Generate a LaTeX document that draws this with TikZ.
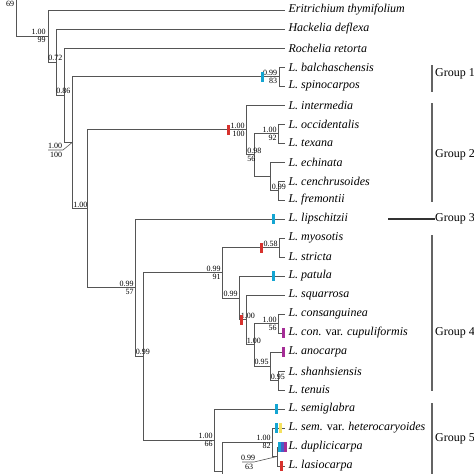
\documentclass[tikz,border=0pt]{standalone}
\usepackage{fontspec}
\setmainfont{Liberation Serif}
\definecolor{treegray}{RGB}{85,85,85}
\definecolor{bargray}{RGB}{100,100,100}
\definecolor{cyanm}{RGB}{20,165,210}
\definecolor{redm}{RGB}{215,50,45}
\definecolor{magm}{RGB}{165,45,150}
\definecolor{yelm}{RGB}{245,225,95}
\definecolor{bluem}{RGB}{70,95,200}
\tikzset{
  br/.style={draw=treegray, line width=0.9pt},
  leaf/.style={anchor=west, inner xsep=3.5pt, inner ysep=0pt, outer sep=0pt, font=\fontsize{12}{12}\selectfont\itshape},
  sup/.style={inner sep=0.6pt, font=\fontsize{8}{8}\selectfont},
  mk/.style={rectangle, inner sep=0pt, minimum width=3pt, minimum height=10pt},
  grpbar/.style={draw=bargray, line width=1.8pt},
  grplab/.style={anchor=west, inner sep=0pt, font=\fontsize{12}{12}\selectfont}
}
\begin{document}
\begin{tikzpicture}[x=1pt, y=-1pt]
    \useasboundingbox (0,0) rectangle (474,474);
    \clip (0,0) rectangle (474,474);
    % leaves
    \node [leaf] (l0) at (285,10) {Eritrichium thymifolium};
    \node [leaf] (l1) at (285,29) {Hackelia deflexa};
    \node [leaf] (l2) at (285,48) {Rochelia retorta};
    \node [leaf] (l3) at (285,67) {L. balchaschensis};
    \node [leaf] (l4) at (285,86) {L. spinocarpos};
    \node [leaf] (l5) at (285,105) {L. intermedia};
    \node [leaf] (l6) at (285,124) {L. occidentalis};
    \node [leaf] (l7) at (285,143) {L. texana};
    \node [leaf] (l8) at (285,162) {L. echinata};
    \node [leaf] (l9) at (285,181) {L. cenchrusoides};
    \node [leaf] (l10) at (285,200) {L. fremontii};
    \node [leaf] (l11) at (285,219) {L. lipschitzii};
    \node [leaf] (l12) at (285,238) {L. myosotis};
    \node [leaf] (l13) at (285,257) {L. stricta};
    \node [leaf] (l14) at (285,276) {L. patula};
    \node [leaf] (l15) at (285,295) {L. squarrosa};
    \node [leaf] (l16) at (285,314) {L. consanguinea};
    \node [leaf] (l17) at (285,333) {L. con. \upshape var. \itshape cupuliformis};
    \node [leaf] (l18) at (285,352) {L. anocarpa};
    \node [leaf] (l19) at (285,371) {L. shanhsiensis};
    \node [leaf] (l20) at (285,390) {L. tenuis};
    \node [leaf] (l21) at (285,409) {L. semiglabra};
    \node [leaf] (l22) at (285,428) {L. sem. \upshape var. \itshape heterocaryoides};
    \node [leaf] (l23) at (285,447) {L. duplicicarpa};
    \node [leaf] (l24) at (285,466) {L. lasiocarpa};
    % internal nodes
    \coordinate (ntop) at (16,-10);
    \coordinate (nB) at (48,36.1);
    \coordinate (nC) at (56,62.2);
    \coordinate (nD) at (64,95.3);
    \coordinate (nE) at (72,142.6);
    \coordinate (n34) at (279,76.5);
    \coordinate (nF) at (87,208.8);
    \coordinate (nG) at (246,129.9);
    \coordinate (nH) at (254,154.9);
    \coordinate (n67) at (278,133.5);
    \coordinate (nI) at (270,176.25);
    \coordinate (n910) at (278,190.5);
    \coordinate (nJ) at (135,287.7);
    \coordinate (nK) at (143,356.4);
    \coordinate (nL) at (222,272.7);
    \coordinate (n1213) at (279,247.5);
    \coordinate (nM) at (239,298);
    \coordinate (nN) at (246,319.9);
    \coordinate (nO) at (254,344.9);
    \coordinate (n1617) at (278,323.5);
    \coordinate (nP) at (270,366.25);
    \coordinate (n1920) at (278,380.5);
    \coordinate (nQ) at (214,440);
    \coordinate (nT) at (222,471.1);
    \coordinate (nR) at (272,442.25);
    \coordinate (n2324) at (277,456.5);
    \coordinate (nbot) at (240,500);
    % branches
    \draw [br] (ntop) |- (nB);
    \draw [br] (nB) |- (l0.west);
    \draw [br] (nB) |- (nC);
    \draw [br] (nC) |- (l1.west);
    \draw [br] (nC) |- (nD);
    \draw [br] (nD) |- (l2.west);
    \draw [br] (nD) |- (nE);
    \draw [br] (nE) |- (n34);
    \draw [br] (n34) |- (l3.west);
    \draw [br] (n34) |- (l4.west);
    \draw [br] (nE) |- (nF);
    \draw [br] (nF) |- (nG);
    \draw [br] (nG) |- (l5.west);
    \draw [br] (nG) |- (nH);
    \draw [br] (nH) |- (n67);
    \draw [br] (n67) |- (l6.west);
    \draw [br] (n67) |- (l7.west);
    \draw [br] (nH) |- (nI);
    \draw [br] (nI) |- (l8.west);
    \draw [br] (nI) |- (n910);
    \draw [br] (n910) |- (l9.west);
    \draw [br] (n910) |- (l10.west);
    \draw [br] (nF) |- (nJ);
    \draw [br] (nJ) |- (l11.west);
    \draw [br] (nJ) |- (nK);
    \draw [br] (nK) |- (nL);
    \draw [br] (nL) |- (n1213);
    \draw [br] (n1213) |- (l12.west);
    \draw [br] (n1213) |- (l13.west);
    \draw [br] (nL) |- (nM);
    \draw [br] (nM) |- (l14.west);
    \draw [br] (nM) |- (nN);
    \draw [br] (nN) |- (l15.west);
    \draw [br] (nN) |- (nO);
    \draw [br] (nO) |- (n1617);
    \draw [br] (n1617) |- (l16.west);
    \draw [br] (n1617) |- (l17.west);
    \draw [br] (nO) |- (nP);
    \draw [br] (nP) |- (l18.west);
    \draw [br] (nP) |- (n1920);
    \draw [br] (n1920) |- (l19.west);
    \draw [br] (n1920) |- (l20.west);
    \draw [br] (nK) |- (nQ);
    \draw [br] (nQ) |- (l21.west);
    \draw [br] (nQ) |- (nT);
    \draw [br] (nT) |- (nR);
    \draw [br] (nT) |- (nbot);
    \draw [br] (nR) |- (l22.west);
    \draw [br] (nR) |- (n2324);
    \draw [br] (n2324) |- (l23.west);
    \draw [br] (n2324) |- (l24.west);
    % support values
    \node [sup] (s0) at (10,4) {69};
    \node [sup, anchor=south east] (s1a) at (46.5,35.6) {1.00};
    \node [sup, anchor=north east] (s1b) at (46.5,36.6) {99};
    \node [sup, anchor=south west] (s2) at (47.5,61.7) {0.72};
    \node [sup, anchor=south west] (s3) at (55.5,94.8) {0.86};
    \node [sup] (s4a) at (55,146) {1.00};
    \node [sup] (s4b) at (56,154.5) {100};
    \draw [br, line width=0.6pt] (48,150) -- (63,150) -- (nE);
    \node [sup, anchor=south west] (s5) at (72.5,208.3) {1.00};
    \node [sup, anchor=south east] (s6a) at (278,76) {0.99};
    \node [sup, anchor=north east] (s6b) at (278,77) {83};
    \node [sup, anchor=south east] (s7a) at (245.5,129.4) {1.00};
    \node [sup, anchor=north east] (s7b) at (245.5,130.4) {100};
    \node [sup, anchor=south east] (s8a) at (277.5,133) {1.00};
    \node [sup, anchor=north east] (s8b) at (277.5,134) {92};
    \node [sup, anchor=south west] (s9a) at (246.5,154.4) {0.98};
    \node [sup, anchor=north west] (s9b) at (246.5,155.4) {56};
    \node [sup, anchor=south west] (s10) at (271,190) {0.99};
    \node [sup, anchor=south east] (s11a) at (134.5,287.2) {0.99};
    \node [sup, anchor=north east] (s11b) at (134.5,288.2) {57};
    \node [sup, anchor=south west] (s12) at (135,355.9) {0.99};
    \node [sup, anchor=south east] (s13a) at (221.5,272.2) {0.99};
    \node [sup, anchor=north east] (s13b) at (221.5,273.2) {91};
    \node [sup, anchor=south east] (s14) at (278.5,247) {0.58};
    \node [sup, anchor=south east] (s15) at (238.5,297.5) {0.99};
    \node [sup, anchor=south west] (s16) at (240,319.4) {1.00};
    \node [sup, anchor=south west] (s17) at (246,344.4) {1.00};
    \node [sup, anchor=south east] (s18a) at (277.5,323) {1.00};
    \node [sup, anchor=north east] (s18b) at (277.5,324) {56};
    \node [sup, anchor=south east] (s19) at (269.5,365.8) {0.95};
    \node [sup, anchor=south west] (s20) at (270,380) {0.95};
    \node [sup, anchor=south east] (s21a) at (213.5,439.5) {1.00};
    \node [sup, anchor=north east] (s21b) at (213.5,440.5) {66};
    \node [sup, anchor=south east] (s22a) at (271.5,441.8) {1.00};
    \node [sup, anchor=north east] (s22b) at (271.5,442.8) {82};
    \node [sup] (s23a) at (248,458) {0.99};
    \node [sup] (s23b) at (249,466.5) {63};
    \draw [br, line width=0.6pt] (242,462) -- (254,462) -- (n2324);
    % markers
    \node [mk, fill=cyanm] (m1) at (262,76.5) {};
    \node [mk, fill=redm] (m2) at (228,129.9) {};
    \node [mk, fill=cyanm] (m3) at (273,219) {};
    \node [mk, fill=redm] (m4) at (261,247.5) {};
    \node [mk, fill=cyanm] (m5) at (273,276) {};
    \node [mk, fill=redm] (m6) at (241.5,319.9) {};
    \node [mk, fill=magm] (m7) at (283,333) {};
    \node [mk, fill=magm] (m8) at (283,352) {};
    \node [mk, fill=cyanm] (m9) at (276,409) {};
    \node [mk, fill=cyanm] (m10) at (276,428) {};
    \node [mk, fill=yelm] (m11) at (280,428) {};
    \node [mk, fill=cyanm] (m12) at (279,447) {};
    \node [mk, fill=bluem] (m13) at (282,447) {};
    \node [mk, fill=magm] (m14) at (285,447) {};
    \node [mk, fill=redm] (m15) at (281,466) {};
    % groups
    \node [grplab] (grp1) at (435,74) {Group 1};
    \node [grplab] (grp2) at (435,155) {Group 2};
    \node [grplab] (grp3) at (435,219) {Group 3};
    \node [grplab] (grp4) at (435,333) {Group 4};
    \node [grplab] (grp5) at (435,439) {Group 5};
    \draw [grpbar] (432,65) -- (432,92);
    \draw [grpbar] (432,103) -- (432,202);
    \coordinate (g3s) at (388,219);
    \draw [draw=black!80, line width=1.1pt] (g3s) -- (grp3.west);
    \draw [grpbar] (432,235) -- (432,391);
    \draw [grpbar] (432,403) -- (432,480);
\end{tikzpicture}
\end{document}
